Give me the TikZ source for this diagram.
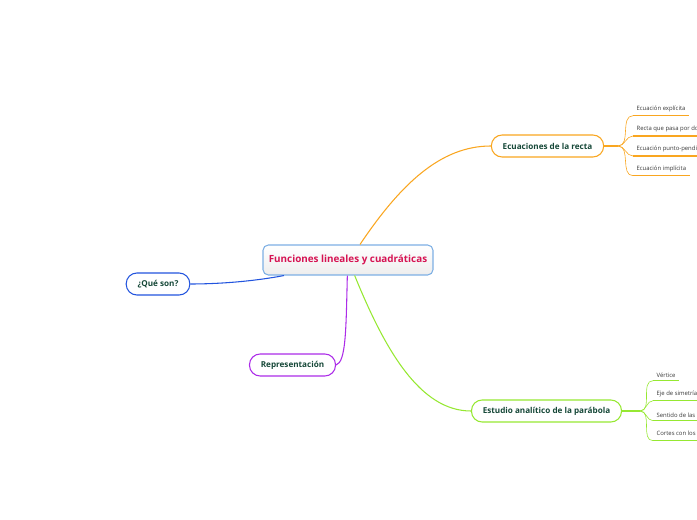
\documentclass[tikz,border=0pt]{standalone}
\usepackage{fontspec}
\setmainfont{Open Sans}
\definecolor{TitleRed}{RGB}{214,18,82}
\definecolor{TopicGreen}{RGB}{22,72,56}
\definecolor{LeafGray}{RGB}{55,55,55}
\definecolor{CentralBlue}{RGB}{125,175,228}
\definecolor{RectaOrange}{RGB}{249,166,32}
\definecolor{ParabolaLime}{RGB}{150,232,50}
\definecolor{QueBlue}{RGB}{34,84,222}
\definecolor{RepPurple}{RGB}{172,44,232}
\usetikzlibrary{positioning}

\begin{document}
\begin{tikzpicture}[x=0.75pt, y=-0.75pt,
      central/.style={draw=CentralBlue, top color=white, bottom color=black!7,
                      rounded corners=4pt, line width=0.8pt,
                      minimum width=127.5pt, minimum height=22.5pt,
                      font=\fontsize{7.4}{8}\selectfont\bfseries, text=TitleRed},
      topic/.style={draw=#1, fill=white, rounded corners=8pt, line width=0.8pt,
                    minimum height=16.5pt, inner xsep=8.5pt,
                    font=\fontsize{6.1}{7}\selectfont\bfseries, text=TopicGreen},
      leaf/.style={anchor=south west, inner xsep=2.5pt, inner ysep=2.5pt,
                   font=\fontsize{4.45}{5}\selectfont, text=LeafGray},
      link/.style={draw=#1, line width=0.8pt},
      branch/.style={draw=#1, line width=0.45pt},
      uline/.style={draw=#1, line width=1.1pt}
    ]
      \path[use as bounding box] (0,0) rectangle (697,520);
      \clip (0,0) rectangle (697,520);

      % centro y temas
      \node[central] (fun) at (348,260) {Funciones lineales y cuadráticas};
      \node[topic=RectaOrange] (ecu) at (547.5,146) {Ecuaciones de la recta};
      \node[topic=ParabolaLime] (est) at (546.5,411) {Estudio analítico de la parábola};
      \node[topic=QueBlue] (que) at (158,284) {¿Qué son?};
      \node[topic=RepPurple] (rep) at (292.5,365) {Representación};

      \draw[link=RectaOrange] ([xshift=9pt]fun.north) .. controls (400,185) and (440,146) .. (ecu.west);
      \draw[link=ParabolaLime] ([xshift=5pt]fun.south) .. controls (385,350) and (420,411) .. (est.west);
      \draw[link=QueBlue] ([xshift=-48pt]fun.south) .. controls (250,282) and (215,284) .. (que.east);
      \draw[link=RepPurple] ([xshift=-0.5pt]fun.south) .. controls (346,330) and (346,362) .. (rep.east);

      % hojas de la recta
      \coordinate (ecuK) at (618,146);
      \node[leaf] (e1) at (633,115.7) {Ecuación explícita};
      \node[leaf] (e2) at (633,136) {Recta que pasa por dos puntos};
      \node[leaf] (e3) at (633,156) {Ecuación punto-pendiente};
      \node[leaf] (e4) at (633,175.7) {Ecuación implícita};
      \draw[link=RectaOrange, line width=1.1pt] (ecu.east) -- (ecuK);
      \foreach \l in {e1,e2,e3,e4}{
        \draw[branch=RectaOrange] (ecuK) to[out=0,in=180] (\l.south west);
        \draw[uline=RectaOrange] (\l.south west) -- (\l.south east);
      }

      % hojas de la parabola
      \coordinate (estK) at (640,411);
      \node[leaf] (p1) at (653,380.7) {Vértice};
      \node[leaf] (p2) at (653,400.7) {Eje de simetría};
      \node[leaf] (p3) at (653,420.7) {Sentido de las ramas};
      \node[leaf] (p4) at (653,440.7) {Cortes con los ejes};
      \draw[link=ParabolaLime, line width=1.1pt] (est.east) -- (estK);
      \foreach \l in {p1,p2,p3,p4}{
        \draw[branch=ParabolaLime] (estK) to[out=0,in=180] (\l.south west);
        \draw[uline=ParabolaLime] (\l.south west) -- (\l.south east);
      }
    \end{tikzpicture}
\end{document}
